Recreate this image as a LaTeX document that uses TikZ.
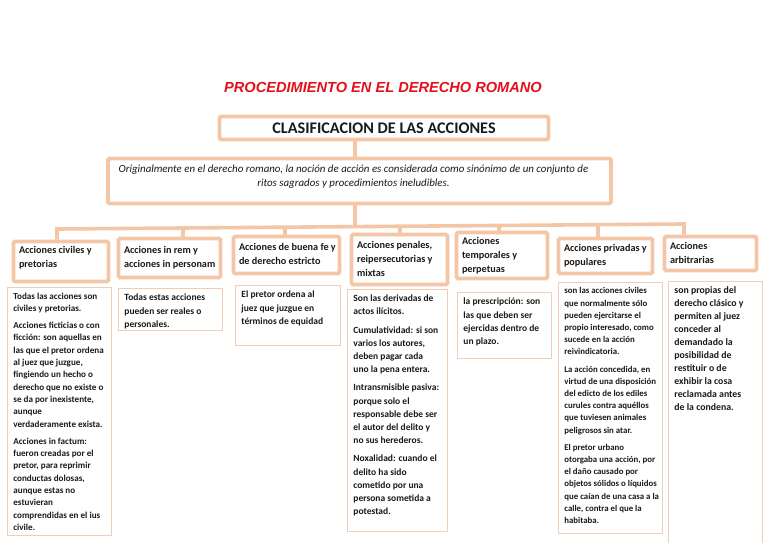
\documentclass[tikz,border=0pt]{standalone}
\usepackage{fontspec}
\setmainfont{Carlito}
\newfontfamily\titlefont{Liberation Sans}
\definecolor{peach}{HTML}{F5C6A5}
\definecolor{peachlt}{HTML}{F0CDB8}
\definecolor{titlered}{HTML}{E3101C}
\definecolor{ink}{HTML}{1A1A1A}
\newcommand{\detailtxt}[5]{\parbox[c][#2pt][t]{#1pt}{\fontsize{#3}{#4}\selectfont\begin{tabular}[t]{@{}l@{}}#5\end{tabular}}}
\newcommand{\cattxt}[2]{\parbox{#1pt}{\begin{tabular}{@{}l@{}}#2\end{tabular}}}
\begin{document}
\begin{tikzpicture}[x=1pt,y=-1pt,
  conn/.style={draw=peach, line width=3.6pt},
  topbox/.style={draw=peach, line width=3.6pt, rounded corners=1.5pt, fill=white, text=ink},
  catbox/.style={draw=peach, line width=3.6pt, rounded corners=1.5pt, fill=white, text=ink,
     font=\fontsize{10.2}{14}\selectfont\bfseries, inner xsep=5.5pt, inner ysep=0pt},
  detbox/.style={draw=peachlt, line width=0.8pt, fill=white, text=ink, anchor=north west,
     inner xsep=6pt, inner ysep=3pt, font=\bfseries},
]
\useasboundingbox[fill=white] (0,0) rectangle (768,543);

% title
\node[font=\titlefont\fontsize{14.6}{17}\selectfont\bfseries\itshape, text=titlered] (title) at (383,87) {PROCEDIMIENTO EN EL DERECHO ROMANO};

% top boxes
\node[topbox, minimum width=329pt, minimum height=23pt, inner sep=0pt,
      font=\fontsize{16.2}{18}\selectfont\bfseries] (clas) at (384,128) {CLASIFICACION DE LAS ACCIONES};
\node[topbox, inner xsep=4pt, inner ysep=5pt] (intro) at (359.5,181)
  {\parbox[c][35pt][t]{483pt}{\centering\vspace*{1.5pt}\fontsize{10.9}{14}\selectfont\itshape Originalmente en el derecho romano, la noción de acción es considerada como sinónimo de un conjunto de\\ ritos sagrados y procedimientos ineludibles.}\hspace*{12pt}};

% junction coordinates on the bar
\coordinate (j) at (355,0);
\coordinate (b1) at (57,229);
\coordinate (b2) at (183,228);
\coordinate (b3) at (285,227.2);
\coordinate (bj) at (355,226.6);
\coordinate (b4) at (400,226.3);
\coordinate (b5) at (499,225.5);
\coordinate (b6) at (598,224.7);
\coordinate (b7) at (684,224);

% category boxes
\node[catbox, minimum width=95pt, minimum height=40pt] (c1) at (61,261.5) {\parbox{84pt}{\begin{tabular}{@{}l@{}}Acciones civiles y\\ pretorias\end{tabular}\par\vspace*{8pt}}};
\node[catbox, minimum width=102pt, minimum height=39pt] (c2) at (169.5,258) {\cattxt{91}{Acciones in rem y\\ acciones in personam}};
\node[catbox, minimum width=106pt, minimum height=37pt] (c3) at (286.5,255) {\cattxt{95}{Acciones de buena fe y\\ de derecho estricto}};
\node[catbox, minimum width=96pt, minimum height=50pt] (c4) at (399.5,259.5) {\cattxt{85}{Acciones penales,\\ reipersecutorias y\\ mixtas}};
\node[catbox, minimum width=91pt, minimum height=46pt] (c5) at (502,255.5) {\cattxt{80}{Acciones\\ temporales y\\ perpetuas}};
\node[catbox, minimum width=94pt, minimum height=35pt] (c6) at (605.5,256) {\cattxt{83}{Acciones privadas y\\ populares}};
\node[catbox, minimum width=92pt, minimum height=34pt] (c7) at (710.5,253.5) {\cattxt{81}{Acciones\\ arbitrarias}};

% connectors
\draw[conn] (clas.south -| j) -- (intro.north -| j);
\draw[conn] (intro.south -| j) -- (bj);
\draw[conn, line join=miter] (c1.north -| b1) -- (b1) -- (b7) -- (c7.north -| b7);
\draw[conn] (b2) -- (c2.north -| b2);
\draw[conn] (b3) -- (c3.north -| b3);
\draw[conn] (b4) -- (c4.north -| b4);
\draw[conn] (b5) -- (c5.north -| b5);
\draw[conn] (b6) -- (c6.north -| b6);

% detail boxes
\node[detbox] (d1) at (7,287) {\detailtxt{92}{242}{9.1}{12.3}{%
Todas las acciones son\\ civiles y pretorias.\\[5pt]
Acciones ficticias o con\\ ficción: son aquellas en\\ las que el pretor ordena\\ al juez que juzgue,\\ fingiendo un hecho o\\ derecho que no existe o\\ se da por inexistente,\\ aunque\\ verdaderamente exista.\\[5pt]
Acciones in factum:\\ fueron creadas por el\\ pretor, para reprimir\\ conductas dolosas,\\ aunque estas no\\ estuvieran\\ comprendidas en el ius\\ civile.}};

\node[detbox] (d2) at (118,288) {\detailtxt{92}{36}{9.5}{13.5}{%
Todas estas acciones\\ pueden ser reales o\\ personales.}};

\node[detbox] (d3) at (235,285) {\detailtxt{93}{54}{9.5}{13.5}{%
El pretor ordena al\\ juez que juzgue en\\ términos de equidad}};

\node[detbox] (d4) at (347,289) {\detailtxt{88}{236}{9.5}{13.2}{%
Son las derivadas de\\ actos ilícitos.\\[5pt]
Cumulatividad: si son\\ varios los autores,\\ deben pagar cada\\ uno la pena entera.\\[5pt]
Intransmisible pasiva:\\ porque solo el\\ responsable debe ser\\ el autor del delito y\\ no sus herederos.\\[5pt]
Noxalidad: cuando el\\ delito ha sido\\ cometido por una\\ persona sometida a\\ potestad.}};

\node[detbox] (d5) at (457,292) {\detailtxt{82}{60}{9.5}{13.3}{%
la prescripción: son\\ las que deben ser\\ ejercidas dentro de\\ un plazo.}};

\node[detbox] (d6) at (558,282) {\detailtxt{92}{245}{8.8}{12.2}{%
son las acciones civiles\\ que normalmente sólo\\ pueden ejercitarse el\\ propio interesado, como\\ sucede en la acción\\ reivindicatoria.\\[5pt]
La acción concedida, en\\ virtud de una disposición\\ del edicto de los ediles\\ curules contra aquéllos\\ que tuviesen animales\\ peligrosos sin atar.\\[5pt]
El pretor urbano\\ otorgaba una acción, por\\ el daño causado por\\ objetos sólidos o líquidos\\ que caían de una casa a la\\ calle, contra el que la\\ habitaba.}};

\node[detbox] (d7) at (668,281) {\detailtxt{82}{264}{9.8}{13}{%
son propias del\\ derecho clásico y\\ permiten al juez\\ conceder al\\ demandado la\\ posibilidad de\\ restituir o de\\ exhibir la cosa\\ reclamada antes\\ de la condena.}};
\end{tikzpicture}
\end{document}
